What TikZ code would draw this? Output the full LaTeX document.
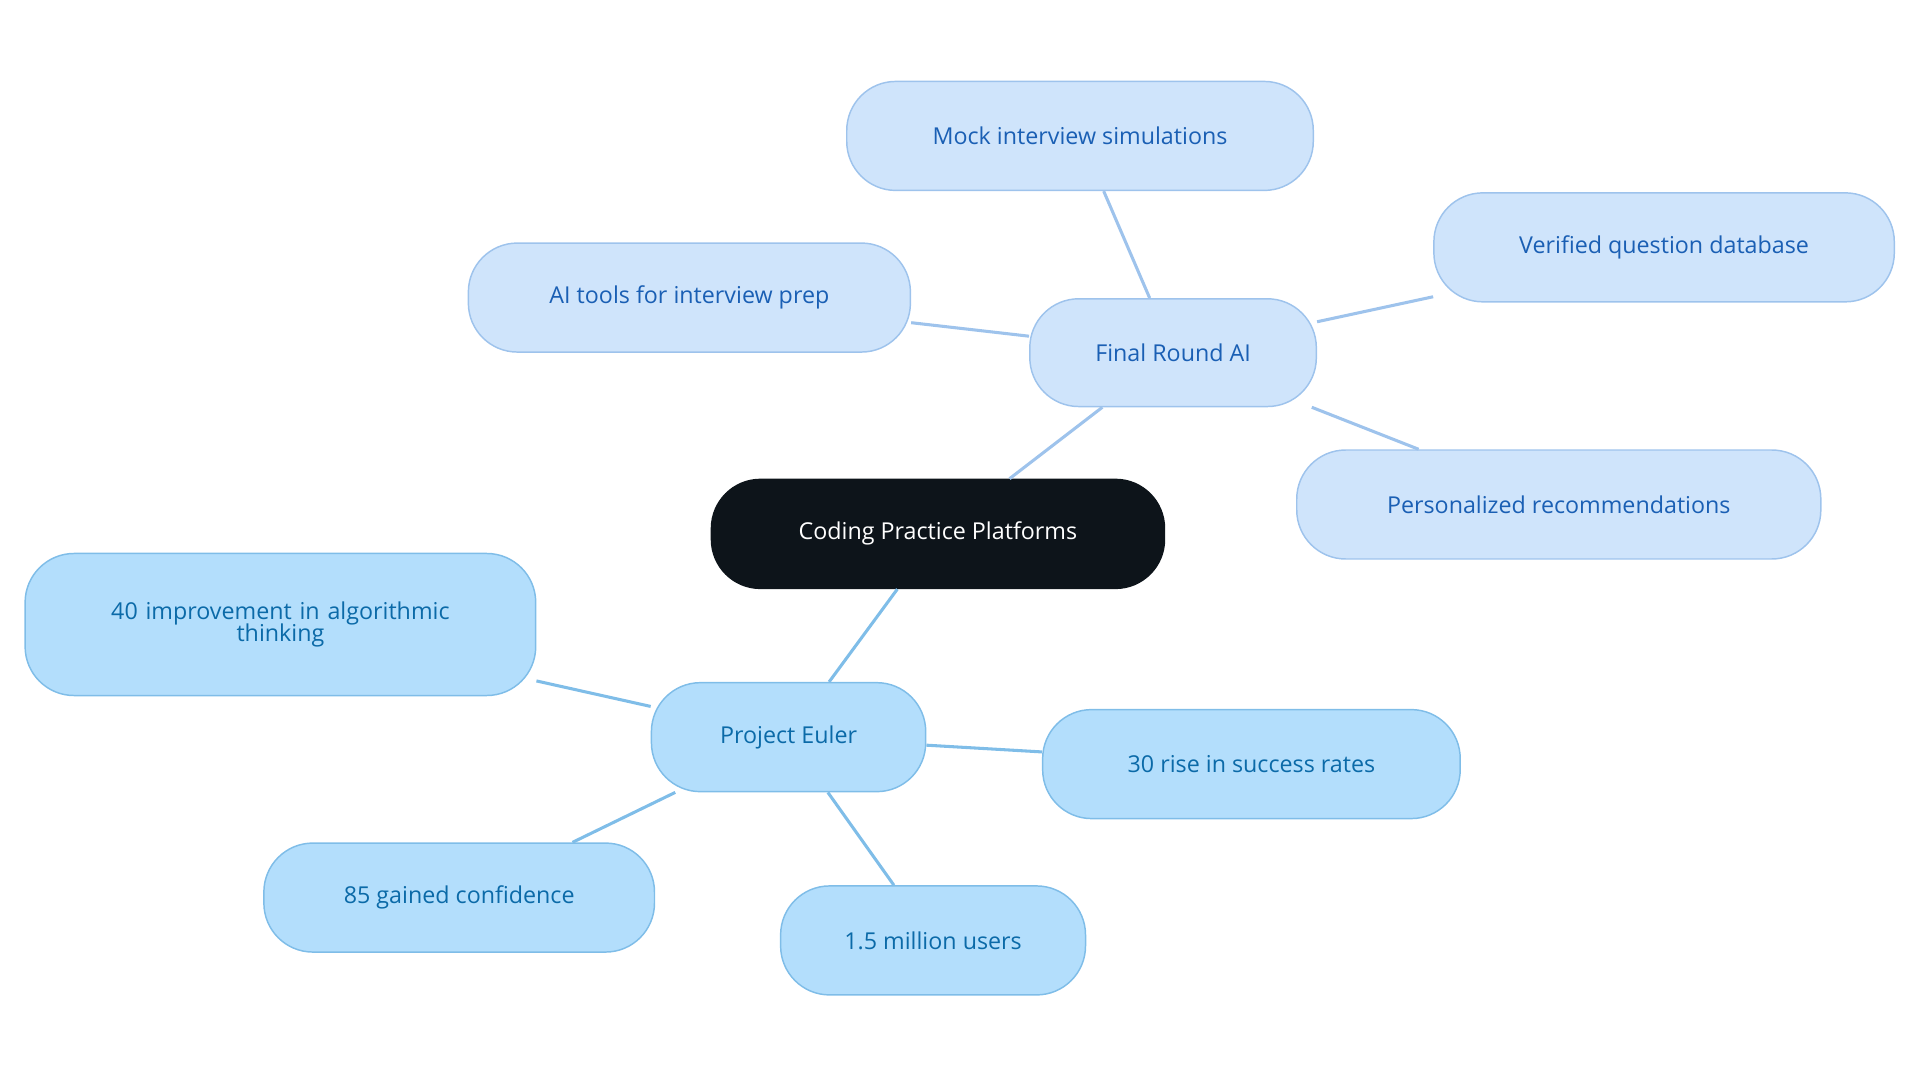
\documentclass[tikz,border=0pt]{standalone}
\usepackage{fontspec}
\setmainfont{Open Sans}
\definecolor{fa}{HTML}{CFE4FB}
\definecolor{fab}{HTML}{9EC3EC}
\definecolor{fat}{HTML}{1A5FB4}
\definecolor{pe}{HTML}{B3DEFC}
\definecolor{peb}{HTML}{7FBDE8}
\definecolor{pet}{HTML}{0B6AA8}
\definecolor{dark}{HTML}{0D141A}
\begin{document}
\begin{tikzpicture}[x=1pt,y=-1pt,
  base/.style={rounded corners=40pt,line width=1.2pt,align=center,inner sep=0pt,font=\fontsize{19}{22}\selectfont},
  fnode/.style={base,fill=fa,draw=fab,text=fat},
  pnode/.style={base,fill=pe,draw=peb,text=pet},
  fedge/.style={draw=fab,line width=2.5pt},
  pedge/.style={draw=peb,line width=2.5pt}]
\useasboundingbox (0,0) rectangle (1568,884);
\node[base,fill=dark,draw=dark,text=white,minimum width=370pt,minimum height=89pt] (c) at (766,436) {Coding Practice Platforms};
\node[fnode,minimum width=234pt,minimum height=88pt] (f) at (958,288) {Final Round AI};
\node[fnode,minimum width=381pt,minimum height=89pt] (f1) at (882,111) {Mock interview simulations};
\node[fnode,minimum width=376pt,minimum height=89pt] (f2) at (1359,202) {Verified question database};
\node[fnode,minimum width=361pt,minimum height=89pt] (f3) at (563,243) {AI tools for interview prep};
\node[fnode,minimum width=428pt,minimum height=89pt] (f4) at (1273,412) {Personalized recommendations};
\node[pnode,minimum width=224pt,minimum height=89pt] (p) at (644,602) {Project Euler};
\node[pnode,minimum width=417pt,minimum height=116pt,text width=360pt] (p1) at (229,510) {40 improvement in algorithmic\\[-4pt]thinking};
\node[pnode,minimum width=341pt,minimum height=89pt] (p2) at (1022,624) {30 rise in success rates};
\node[pnode,minimum width=319pt,minimum height=89pt] (p3) at (375,733) {85 gained confidence};
\node[pnode,minimum width=249pt,minimum height=89pt] (p4) at (762,768) {1.5 million users};
\draw[fedge] (c) -- (f);
\draw[fedge] (f) -- (f1);
\draw[fedge] (f) -- (f2);
\draw[fedge] (f) -- (f3);
\draw[fedge] (f) -- (f4);
\draw[pedge] (c) -- (p);
\draw[pedge] (p) -- (p1);
\draw[pedge] (p) -- (p2);
\draw[pedge] (p) -- (p3);
\draw[pedge] (p) -- (p4);
\end{tikzpicture}
\end{document}
